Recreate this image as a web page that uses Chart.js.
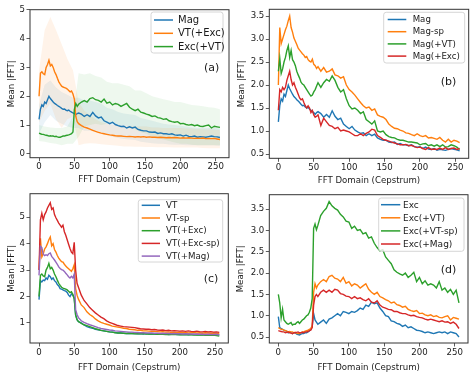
<!DOCTYPE html>
<html>
<head>
<meta charset="utf-8">
<script src="https://cdn.jsdelivr.net/npm/chart.js@4.4.1/dist/chart.umd.min.js"></script>
<style>
  html, body { margin: 0; padding: 0; background: #fff; }
  body { width: 474px; height: 376px; position: relative; overflow: hidden; }
  canvas { position: absolute; }
</style>
</head>
<body>
<canvas id="panelA" width="237" height="188" style="left:0px;top:0px"></canvas>
<canvas id="panelB" width="242" height="188" style="left:232px;top:0px"></canvas>
<canvas id="panelC" width="237" height="188" style="left:0px;top:188px"></canvas>
<canvas id="panelD" width="242" height="188" style="left:232px;top:188px"></canvas>
<script>
// cepstrum bins (finer steps before the jump near 50)
const X = [0,2,4,6,8,10,12,14,16,18,20,22,24,26,28,30,32,34,36,38,40,42,44,46,48,50,52,54,56,
  60,64,68,72,76,80,84,88,92,96,100,104,108,112,116,120,124,128,132,136,140,144,148,152,156,
  160,164,168,172,176,180,184,188,192,196,200,204,208,212,216,220,224,228,232,236,240,244,248,252,256];
const BAND_X = [0,8,16,24,32,40,48,56,64,72,80,88,96,104,112,120,128,136,144,152,160,168,176,184,
  192,200,208,216,224,232,240,248,256];

const X_TICKS = [0, 50, 100, 150, 200, 250];
const Y_TICKS_A = [0, 1, 2, 3, 4, 5];
const Y_TICKS_B = [0.5, 1.0, 1.5, 2.0, 2.5, 3.0, 3.5];
const Y_TICKS_C = [1, 2, 3, 4, 5];
const Y_TICKS_D = [0.5, 1.0, 1.5, 2.0, 2.5, 3.0, 3.5];

// shared series
const MAG = [1.2,1.55,1.7,1.65,1.8,1.75,1.88,2.0,1.92,1.86,1.8,1.75,1.72,1.68,1.65,1.62,1.58,1.55,1.56,1.52,1.5,1.52,1.48,1.45,1.42,1.4,1.36,1.4,1.42,
  1.38,1.3,1.36,1.3,1.44,1.32,1.25,1.28,1.15,1.1,
  1.05,1.1,1.02,0.98,0.95,0.96,0.9,0.94,0.9,0.93,
  0.85,0.82,0.8,0.8,0.76,0.75,0.76,0.71,0.73,0.7,
  0.7,0.68,0.7,0.66,0.65,0.66,0.62,0.65,0.61,0.6,
  0.62,0.58,0.6,0.59,0.58,0.6,0.62,0.6,0.59,0.57];
const VT_EXC = [2.0,2.8,2.85,2.78,2.75,3.0,3.1,3.25,3.05,3.1,3.0,2.85,2.75,2.62,2.5,2.42,2.35,2.32,2.3,2.28,2.25,2.2,2.15,2.18,2.08,1.9,1.3,1.12,1.05,
  0.98,0.93,0.9,0.86,0.82,0.78,0.75,0.72,0.7,0.68,
  0.66,0.65,0.63,0.62,0.62,0.61,0.6,0.61,0.6,0.59,
  0.6,0.59,0.6,0.58,0.59,0.58,0.58,0.57,0.58,0.57,
  0.56,0.57,0.56,0.57,0.56,0.55,0.56,0.55,0.56,0.55,
  0.54,0.55,0.54,0.55,0.53,0.54,0.53,0.54,0.52,0.5];
const EXC_VT = [0.72,0.7,0.68,0.68,0.66,0.65,0.64,0.62,0.63,0.62,0.62,0.6,0.61,0.59,0.58,0.58,0.6,0.62,0.62,0.64,0.65,0.66,0.68,0.7,0.76,1.55,1.75,1.65,1.72,
  1.8,1.85,1.8,1.92,1.95,1.88,1.86,1.8,1.9,1.76,
  1.8,1.7,1.75,1.72,1.65,1.7,1.75,1.62,1.55,1.5,
  1.55,1.45,1.42,1.38,1.35,1.3,1.32,1.26,1.24,1.2,
  1.22,1.15,1.12,1.1,1.12,1.05,1.06,1.02,1.0,1.02,
  0.98,1.0,0.96,0.95,0.98,1.0,0.9,0.96,0.94,0.92];

// panel (a) spread bands
const MAG_UP = [1.7,2.4,2.55,2.3,2.15,2.05,1.95,1.95,1.85,1.85,1.8,1.75,1.6,1.55,1.45,1.4,1.38,1.35,1.25,1.2,1.15,1.1,1.05,1.02,1.0,0.98,0.95,0.92,0.9,0.9,0.9,0.9,0.88];
const MAG_LO = [0.7,1.1,1.35,1.15,1.05,0.95,0.9,0.9,0.8,0.8,0.8,0.75,0.65,0.6,0.55,0.52,0.5,0.48,0.42,0.4,0.37,0.35,0.35,0.33,0.32,0.32,0.3,0.3,0.3,0.3,0.3,0.3,0.28];
const VT_EXC_UP = [2.9,4.3,4.75,4.3,3.8,3.3,2.9,1.8,1.5,1.35,1.2,1.1,1.05,1.0,1.0,0.98,0.98,0.95,0.95,0.95,0.92,0.92,0.9,0.9,0.9,0.9,0.88,0.88,0.86,0.86,0.85,0.85,0.82];
const VT_EXC_LO = [1.1,1.5,1.75,1.2,0.9,1.2,1.3,0.3,0.35,0.37,0.36,0.34,0.32,0.3,0.28,0.26,0.26,0.25,0.25,0.24,0.24,0.23,0.23,0.23,0.22,0.22,0.22,0.22,0.22,0.21,0.2,0.2,0.2];
const EXC_VT_UP = [1.0,0.95,0.92,0.9,0.9,0.95,1.3,2.8,2.75,2.8,2.7,2.65,2.5,2.45,2.45,2.4,2.35,2.2,2.2,2.1,2.0,1.95,1.9,1.85,1.8,1.8,1.75,1.7,1.68,1.65,1.62,1.6,1.55];
const EXC_VT_LO = [0.45,0.42,0.38,0.35,0.3,0.35,0.35,0.6,0.95,1.0,1.05,1.0,1.05,1.1,1.0,1.0,0.95,0.85,0.75,0.7,0.6,0.55,0.5,0.45,0.4,0.35,0.35,0.32,0.3,0.3,0.3,0.3,0.3];

// panel (b)
const MAG_SP = [2.0,3.25,2.9,3.0,3.1,3.2,3.28,3.4,3.5,3.25,3.15,3.02,2.95,2.88,2.8,2.76,2.72,2.68,2.65,2.6,2.62,2.55,2.52,2.5,2.56,2.45,2.42,2.36,2.4,
  2.3,2.38,2.28,2.3,2.35,2.22,2.2,2.15,2.18,2.0,
  1.9,1.85,1.78,1.7,1.62,1.55,1.5,1.52,1.45,1.48,
  1.35,1.32,1.3,1.25,1.15,1.1,1.06,1.05,1.02,1.0,
  0.96,0.95,0.92,0.9,0.94,0.9,0.88,0.9,0.85,0.86,
  0.84,0.82,0.86,0.8,0.76,0.82,0.76,0.8,0.78,0.75];
const MAG_VT = [2.3,2.58,2.25,2.35,2.5,2.6,2.75,2.85,2.6,2.75,2.55,2.5,2.42,2.3,2.22,2.15,2.06,2.02,2.0,1.95,1.9,1.85,1.8,1.76,1.78,1.85,1.9,1.98,2.05,
  1.95,2.05,2.12,2.08,2.2,2.1,1.95,1.85,1.9,1.7,
  1.55,1.48,1.5,1.45,1.38,1.42,1.25,1.2,1.15,1.22,
  1.0,0.98,1.0,0.92,0.88,0.86,0.85,0.82,0.8,0.8,
  0.78,0.76,0.76,0.75,0.74,0.7,0.72,0.73,0.68,0.7,
  0.67,0.7,0.66,0.7,0.65,0.66,0.7,0.68,0.65,0.6];
const MAG_EXC = [1.45,1.9,1.85,1.95,1.9,1.95,2.1,2.2,2.3,2.12,2.0,2.05,1.95,1.88,1.8,1.72,1.68,1.7,1.62,1.55,1.5,1.55,1.5,1.4,1.45,1.35,1.3,1.32,1.35,
  1.12,1.28,1.2,1.12,1.1,1.05,1.08,1.0,1.02,1.0,
  0.98,0.94,0.9,0.9,0.94,0.9,0.95,0.98,1.04,1.02,
  0.9,0.86,0.82,0.8,0.78,0.76,0.74,0.72,0.7,0.7,
  0.71,0.68,0.69,0.66,0.64,0.65,0.62,0.6,0.64,0.6,
  0.61,0.6,0.63,0.6,0.64,0.6,0.62,0.63,0.6,0.62];

// panel (c)
const VT = [1.88,2.6,2.55,2.62,2.6,2.7,2.65,2.8,2.75,2.65,2.7,2.6,2.55,2.45,2.4,2.3,2.28,2.25,2.22,2.2,2.15,2.05,2.0,2.1,2.05,1.95,1.3,1.12,1.05,
  1.0,0.92,0.86,0.82,0.8,0.76,0.74,0.72,0.7,0.68,
  0.66,0.65,0.64,0.62,0.62,0.61,0.6,0.61,0.6,0.6,
  0.59,0.6,0.58,0.6,0.58,0.59,0.58,0.57,0.58,0.57,
  0.58,0.56,0.57,0.58,0.56,0.57,0.56,0.57,0.55,0.56,
  0.57,0.55,0.56,0.55,0.56,0.55,0.56,0.55,0.56,0.54];
const VT_SP = [3.0,4.2,3.5,3.62,3.8,3.88,4.0,4.15,4.25,3.92,4.0,3.78,3.68,3.55,3.45,3.38,3.32,3.3,3.22,3.15,3.1,3.05,3.0,2.95,3.05,3.2,2.3,2.05,1.9,
  1.68,1.58,1.42,1.32,1.25,1.15,1.08,1.02,0.98,0.95,
  0.92,0.88,0.86,0.84,0.82,0.8,0.79,0.76,0.75,0.74,
  0.72,0.72,0.7,0.7,0.69,0.68,0.68,0.67,0.66,0.67,
  0.65,0.66,0.64,0.65,0.64,0.65,0.63,0.64,0.62,0.63,
  0.64,0.62,0.63,0.61,0.63,0.62,0.61,0.62,0.61,0.6];
const VT_EXC_SP = [3.0,4.9,5.15,4.9,5.1,5.2,5.35,5.45,5.55,5.3,5.35,5.1,4.98,4.88,4.78,4.7,4.62,4.7,4.45,4.32,4.15,3.98,3.82,3.68,3.62,4.05,3.0,2.5,2.35,
  2.05,1.85,1.72,1.58,1.48,1.38,1.3,1.22,1.16,1.08,
  1.02,0.98,0.94,0.9,0.88,0.86,0.85,0.84,0.83,0.82,
  0.8,0.78,0.77,0.76,0.76,0.74,0.75,0.73,0.72,0.73,
  0.71,0.72,0.7,0.71,0.7,0.69,0.7,0.68,0.7,0.68,
  0.67,0.69,0.67,0.66,0.68,0.66,0.67,0.65,0.66,0.64];
const VT_MAG = [2.8,3.9,3.85,3.6,3.55,3.58,3.55,3.62,3.65,3.52,3.45,3.38,3.3,3.22,3.12,3.06,3.02,3.0,2.95,2.88,2.82,2.75,2.7,2.76,2.7,2.85,1.5,1.32,1.2,
  1.08,1.02,0.97,0.93,0.9,0.86,0.82,0.79,0.77,0.75,
  0.73,0.72,0.7,0.69,0.68,0.67,0.66,0.65,0.65,0.64,
  0.64,0.63,0.63,0.62,0.62,0.62,0.61,0.61,0.6,0.61,
  0.6,0.6,0.59,0.6,0.59,0.59,0.58,0.59,0.58,0.58,
  0.57,0.58,0.57,0.57,0.56,0.57,0.56,0.56,0.57,0.55];

// panel (d)
const EXC = [0.98,0.72,0.7,0.68,0.66,0.65,0.63,0.6,0.62,0.6,0.58,0.6,0.6,0.57,0.56,0.55,0.57,0.58,0.58,0.6,0.6,0.62,0.64,0.68,0.75,1.05,0.9,0.85,0.8,
  0.85,0.9,0.82,0.92,0.95,1.0,1.05,1.0,1.1,1.08,
  1.05,1.1,1.08,1.12,1.18,1.15,1.25,1.22,1.32,1.28,
  1.3,1.18,1.1,1.0,0.98,0.88,0.86,0.82,0.8,0.75,
  0.78,0.72,0.74,0.7,0.66,0.65,0.63,0.6,0.62,0.6,
  0.58,0.6,0.62,0.6,0.62,0.58,0.62,0.6,0.58,0.5];
const EXC_VT_SP = [1.5,1.3,0.95,1.15,0.9,0.86,0.82,0.8,0.82,0.84,0.78,0.8,0.8,0.84,0.86,0.82,0.86,0.9,0.92,0.96,1.0,1.02,1.08,1.18,1.4,3.05,3.15,3.02,3.12,
  3.35,3.45,3.52,3.68,3.58,3.52,3.48,3.38,3.32,3.22,
  3.2,3.05,3.1,3.0,3.02,2.92,2.95,2.82,2.85,2.7,
  2.6,2.52,2.55,2.38,2.3,2.22,2.08,2.02,1.98,1.95,
  2.0,1.9,1.95,2.02,1.8,1.9,1.75,1.82,1.72,1.75,
  1.72,1.65,1.8,1.6,1.65,1.55,1.62,1.5,1.6,1.3];
const EXC_MAG = [0.65,0.64,0.63,0.62,0.62,0.6,0.61,0.62,0.6,0.59,0.58,0.6,0.6,0.61,0.62,0.6,0.6,0.61,0.6,0.62,0.62,0.63,0.65,0.66,0.72,1.25,1.45,1.5,1.45,
  1.55,1.6,1.55,1.6,1.55,1.62,1.6,1.52,1.5,1.46,
  1.45,1.4,1.45,1.4,1.42,1.38,1.35,1.4,1.32,1.3,
  1.35,1.25,1.2,1.18,1.15,1.14,1.1,1.1,1.07,1.05,
  1.05,1.02,1.0,1.01,0.98,0.96,0.95,0.92,0.9,0.92,
  0.9,0.88,0.86,0.88,0.85,0.86,0.82,0.85,0.8,0.7];

const BLUE = '#1f77b4', ORANGE = '#ff7f0e', GREEN = '#2ca02c', RED = '#d62728', PURPLE = '#9467bd';
const FONT = "'DejaVu Sans', sans-serif";
const INK = '#1a1a1a';

function pts(xs, vals) {
  return xs.map((x, i) => ({ x: x, y: vals[i] }));
}
function line(label, vals, color) {
  return { label: label, data: pts(X, vals), borderColor: color, borderWidth: 1.4,
    pointRadius: 0, fill: false, tension: 0 };
}
function band(up, lo, rgba) {
  return [
    { data: pts(BAND_X, up), band: true, borderColor: 'rgba(0,0,0,0)', borderWidth: 0,
      pointRadius: 0, fill: '+1', backgroundColor: rgba },
    { data: pts(BAND_X, lo), band: true, borderColor: 'rgba(0,0,0,0)', borderWidth: 0,
      pointRadius: 0, fill: false }
  ];
}

// frame, legend box and panel letter, matplotlib style
const deco = {
  id: 'deco',
  afterDatasetsDraw(chart, args, o) {
    const ctx = chart.ctx, a = chart.chartArea;
    ctx.save();
    ctx.strokeStyle = '#333';
    ctx.lineWidth = 1;
    ctx.strokeRect(a.left, a.top, a.right - a.left, a.bottom - a.top);
    ctx.restore();
  },
  afterDraw(chart, args, o) {
    const ctx = chart.ctx;
    const dx = o.ox, dy = o.oy;
    const lg = o.legend;
    ctx.save();
    // legend frame
    const bx = lg.box[0] - dx, by = lg.box[1] - dy;
    const bw = lg.box[2] - lg.box[0], bh = lg.box[3] - lg.box[1];
    ctx.beginPath();
    ctx.roundRect(bx, by, bw, bh, 2.5);
    ctx.fillStyle = 'rgba(255,255,255,0.8)';
    ctx.fill();
    ctx.strokeStyle = '#cccccc';
    ctx.lineWidth = 0.8;
    ctx.stroke();
    // entries
    const items = chart.data.datasets.filter(d => !d.band);
    ctx.font = lg.size + 'px ' + FONT;
    ctx.textBaseline = 'middle';
    ctx.textAlign = 'left';
    items.forEach((d, i) => {
      const y = lg.row0 + i * lg.step - dy;
      ctx.strokeStyle = d.borderColor;
      ctx.lineWidth = 1.5;
      ctx.beginPath();
      ctx.moveTo(lg.hx[0] - dx, y);
      ctx.lineTo(lg.hx[1] - dx, y);
      ctx.stroke();
      ctx.fillStyle = INK;
      ctx.fillText(d.label, lg.tx - dx, y + 0.5);
    });
    // panel letter
    ctx.font = '11px ' + FONT;
    ctx.textAlign = 'center';
    ctx.fillStyle = INK;
    ctx.fillText(o.tag, o.tagPos[0] - dx, o.tagPos[1] - dy);
    ctx.restore();
  }
};

function makePanel(id, p) {
  const n = p.datasets.length;
  p.datasets.forEach((d, i) => { d.order = n - i; });
  new Chart(document.getElementById(id), {
    type: 'line',
    data: { datasets: p.datasets },
    options: {
      responsive: false,
      animation: false,
      events: [],
      layout: { padding: { left: 0, top: p.top, right: p.right, bottom: 0 } },
      plugins: {
        legend: { display: false },
        tooltip: { enabled: false },
        deco: p.deco
      },
      scales: {
        x: {
          type: 'linear', min: -12.8, max: 268.8,
          afterBuildTicks: s => { s.ticks = X_TICKS.map(v => ({ value: v })); },
          afterFit: s => { s.height = p.xh; s.paddingLeft = 0; s.paddingRight = 0; },
          grid: { drawOnChartArea: false, drawTicks: true, tickLength: 3.5, color: '#333', lineWidth: 0.8 },
          border: { display: false },
          ticks: { font: { family: FONT, size: 8.6 }, color: INK, padding: 0.8, maxRotation: 0 },
          title: { display: true, text: 'FFT Domain (Cepstrum)', color: INK,
            font: { family: FONT, size: 8.6 }, padding: { top: 0, bottom: p.xtPad } }
        },
        y: {
          type: 'linear', min: p.ymin, max: p.ymax,
          afterBuildTicks: s => { s.ticks = p.yticks.map(v => ({ value: v })); },
          afterFit: s => { s.width = p.left; s.paddingTop = 0; s.paddingBottom = 0; },
          grid: { drawOnChartArea: false, drawTicks: true, tickLength: 3.5, color: '#333', lineWidth: 0.8 },
          border: { display: false },
          ticks: { font: { family: FONT, size: 8.6 }, color: INK, padding: 1.5,
            callback: v => p.fmt(v) },
          title: { display: true, text: 'Mean |FFT|', color: INK,
            font: { family: FONT, size: 8.6 }, padding: { top: p.ytPad, bottom: p.ytPad } }
        }
      }
    },
    plugins: [deco]
  });
}

const intFmt = v => String(v);
const decFmt = v => v.toFixed(1);

makePanel('panelA', {
  datasets: [].concat(
    band(MAG_UP, MAG_LO, 'rgba(31,119,180,0.09)'),
    band(VT_EXC_UP, VT_EXC_LO, 'rgba(255,127,14,0.09)'),
    band(EXC_VT_UP, EXC_VT_LO, 'rgba(44,160,44,0.08)'),
    [line('Mag', MAG, BLUE), line('VT(+Exc)', VT_EXC, ORANGE), line('Exc(+VT)', EXC_VT, GREEN)]
  ),
  top: 9.7, right: 8, left: 30, xh: 30.3, xtPad: 2.8, ytPad: 6.8,
  ymin: -0.13, ymax: 5.0, yticks: Y_TICKS_A, fmt: intFmt,
  deco: { ox: 0, oy: 0, tag: '(a)', tagPos: [211.7, 68],
    legend: { box: [151, 12, 223, 53], row0: 20, step: 13.3, hx: [154, 173], tx: 178, size: 10 } }
});

makePanel('panelB', {
  datasets: [line('Mag', MAG, BLUE), line('Mag-sp', MAG_SP, ORANGE),
    line('Mag(+VT)', MAG_VT, GREEN), line('Mag(+Exc)', MAG_EXC, RED)],
  top: 9.3, right: 5.3, left: 37.3, xh: 29.7, xtPad: 1.8, ytPad: 4.3,
  ymin: 0.407, ymax: 3.646, yticks: Y_TICKS_B, fmt: decFmt,
  deco: { ox: 232, oy: 0, tag: '(b)', tagPos: [448.5, 82],
    legend: { box: [383.7, 12.3, 464.7, 63], row0: 19.5, step: 12.2, hx: [387.7, 406.3], tx: 412.7, size: 8.6 } }
});

makePanel('panelC', {
  datasets: [line('VT', VT, BLUE), line('VT-sp', VT_SP, ORANGE), line('VT(+Exc)', VT_EXC, GREEN),
    line('VT(+Exc-sp)', VT_EXC_SP, RED), line('VT(+Mag)', VT_MAG, PURPLE)],
  top: 5.7, right: 8.7, left: 30, xh: 33, xtPad: 2.8, ytPad: 6.5,
  ymin: 0.24, ymax: 5.89, yticks: Y_TICKS_C, fmt: intFmt,
  deco: { ox: 0, oy: 188, tag: '(c)', tagPos: [211, 278.7],
    legend: { box: [138.3, 199.7, 222.7, 262], row0: 205.3, step: 12.7, hx: [141.7, 160], tx: 166, size: 8.7 } }
});

makePanel('panelD', {
  datasets: [line('Exc', EXC, BLUE), line('Exc(+VT)', EXC_VT, ORANGE),
    line('Exc(+VT-sp)', EXC_VT_SP, GREEN), line('Exc(+Mag)', EXC_MAG, RED)],
  top: 6.7, right: 6, left: 37.3, xh: 33, xtPad: 2.8, ytPad: 3.8,
  ymin: 0.36, ymax: 3.84, yticks: Y_TICKS_D, fmt: decFmt,
  deco: { ox: 232, oy: 188, tag: '(d)', tagPos: [448.5, 269.7],
    legend: { box: [378.7, 198, 464, 251.3], row0: 204.7, step: 13.1, hx: [381, 400.3], tx: 403, size: 9 } }
});
</script>
</body>
</html>
